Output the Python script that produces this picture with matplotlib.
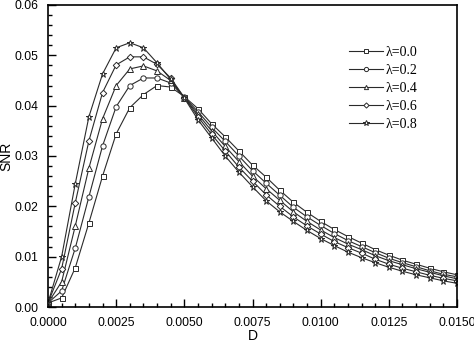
import numpy as np
import matplotlib
matplotlib.use("Agg")
import matplotlib.pyplot as plt
from matplotlib.ticker import MultipleLocator, FormatStrFormatter

D = [i * 0.0005 for i in range(31)]

snr_00 = [0.0008, 0.0018, 0.0078, 0.0167, 0.0260, 0.0344, 0.0396, 0.0422, 0.0440, 0.0437, 0.0418,
          0.0394, 0.0364, 0.0338, 0.0310, 0.0282, 0.0258, 0.0232, 0.0208, 0.0188, 0.0170,
          0.0154, 0.0140, 0.0127, 0.0114, 0.0103, 0.0093, 0.0085, 0.0077, 0.0070, 0.0064]
snr_02 = [0.0008, 0.0032, 0.0117, 0.0219, 0.0320, 0.0398, 0.0440, 0.0455, 0.0455, 0.0445, 0.0417,
          0.0388, 0.0357, 0.0329, 0.0300, 0.0271, 0.0246, 0.0222, 0.0198, 0.0179, 0.0162,
          0.0146, 0.0132, 0.0120, 0.0108, 0.0097, 0.0088, 0.0080, 0.0072, 0.0065, 0.0060]
snr_04 = [0.0008, 0.0050, 0.0161, 0.0276, 0.0374, 0.0440, 0.0473, 0.0479, 0.0469, 0.0450, 0.0416,
          0.0383, 0.0350, 0.0319, 0.0289, 0.0260, 0.0235, 0.0212, 0.0189, 0.0170, 0.0153,
          0.0138, 0.0125, 0.0114, 0.0102, 0.0092, 0.0084, 0.0076, 0.0069, 0.0062, 0.0056]
snr_06 = [0.0008, 0.0076, 0.0207, 0.0330, 0.0426, 0.0481, 0.0497, 0.0497, 0.0482, 0.0455, 0.0416,
          0.0378, 0.0343, 0.0310, 0.0278, 0.0250, 0.0223, 0.0200, 0.0179, 0.0161, 0.0145,
          0.0130, 0.0118, 0.0107, 0.0095, 0.0085, 0.0077, 0.0070, 0.0063, 0.0057, 0.0052]
snr_08 = [0.0008, 0.0100, 0.0245, 0.0378, 0.0463, 0.0515, 0.0525, 0.0515, 0.0485, 0.0452, 0.0415,
          0.0372, 0.0336, 0.0300, 0.0268, 0.0239, 0.0211, 0.0189, 0.0170, 0.0152, 0.0136,
          0.0122, 0.0109, 0.0098, 0.0088, 0.0079, 0.0071, 0.0064, 0.0058, 0.0052, 0.0047]

labels = ["λ=0.0", "λ=0.2", "λ=0.4", "λ=0.6", "λ=0.8"]
series = [snr_00, snr_02, snr_04, snr_06, snr_08]
markers = ["s", "o", "^", "D", "*"]
msizes = [3.6, 3.8, 3.8, 3.3, 4.8]

fig = plt.figure(figsize=(4.74, 3.4), dpi=100)
ax = fig.add_axes([48/474, 1 - 307/340, 409/474, 302/340])

for y, lab, m, ms in zip(series, labels, markers, msizes):
    ax.plot(D, y, color="#2a2a2a", lw=0.8, marker=m, ms=ms,
            mfc="white", mec="#2a2a2a", mew=0.7, label=lab)

ax.set_xlim(0, 0.015)
ax.set_ylim(0, 0.06)
ax.xaxis.set_major_locator(MultipleLocator(0.0025))
ax.xaxis.set_minor_locator(MultipleLocator(0.0005))
ax.yaxis.set_major_locator(MultipleLocator(0.01))
ax.yaxis.set_minor_locator(MultipleLocator(0.002))
ax.xaxis.set_major_formatter(FormatStrFormatter("%.4f"))
ax.yaxis.set_major_formatter(FormatStrFormatter("%.2f"))
ax.tick_params(which="both", direction="in", top=False, right=False, width=1.0)
ax.tick_params(which="major", length=5.5, labelsize=8.7)
ax.tick_params(axis="x", which="major", pad=7)
ax.tick_params(axis="y", which="major", pad=7)
ax.tick_params(which="minor", length=3)
for lbl in ax.get_xticklabels() + ax.get_yticklabels():
    lbl.set_family(["Liberation Sans", "DejaVu Sans"])
for s in ax.spines.values():
    s.set_linewidth(1.2)

ax.set_xlabel("D", fontsize=10, family=["Liberation Sans", "DejaVu Sans"], labelpad=0)
ax.set_ylabel("SNR", fontsize=10, family=["Liberation Sans", "DejaVu Sans"], labelpad=1)

leg = ax.legend(loc="center left", bbox_to_anchor=(0.72, 0.724), frameon=False,
                prop={"family": ["Liberation Serif", "DejaVu Serif"], "size": 10},
                handlelength=2.4, handletextpad=0.2, labelspacing=0.35, borderpad=0,
                markerscale=0.8)

fig.savefig("out.png", dpi=100)
